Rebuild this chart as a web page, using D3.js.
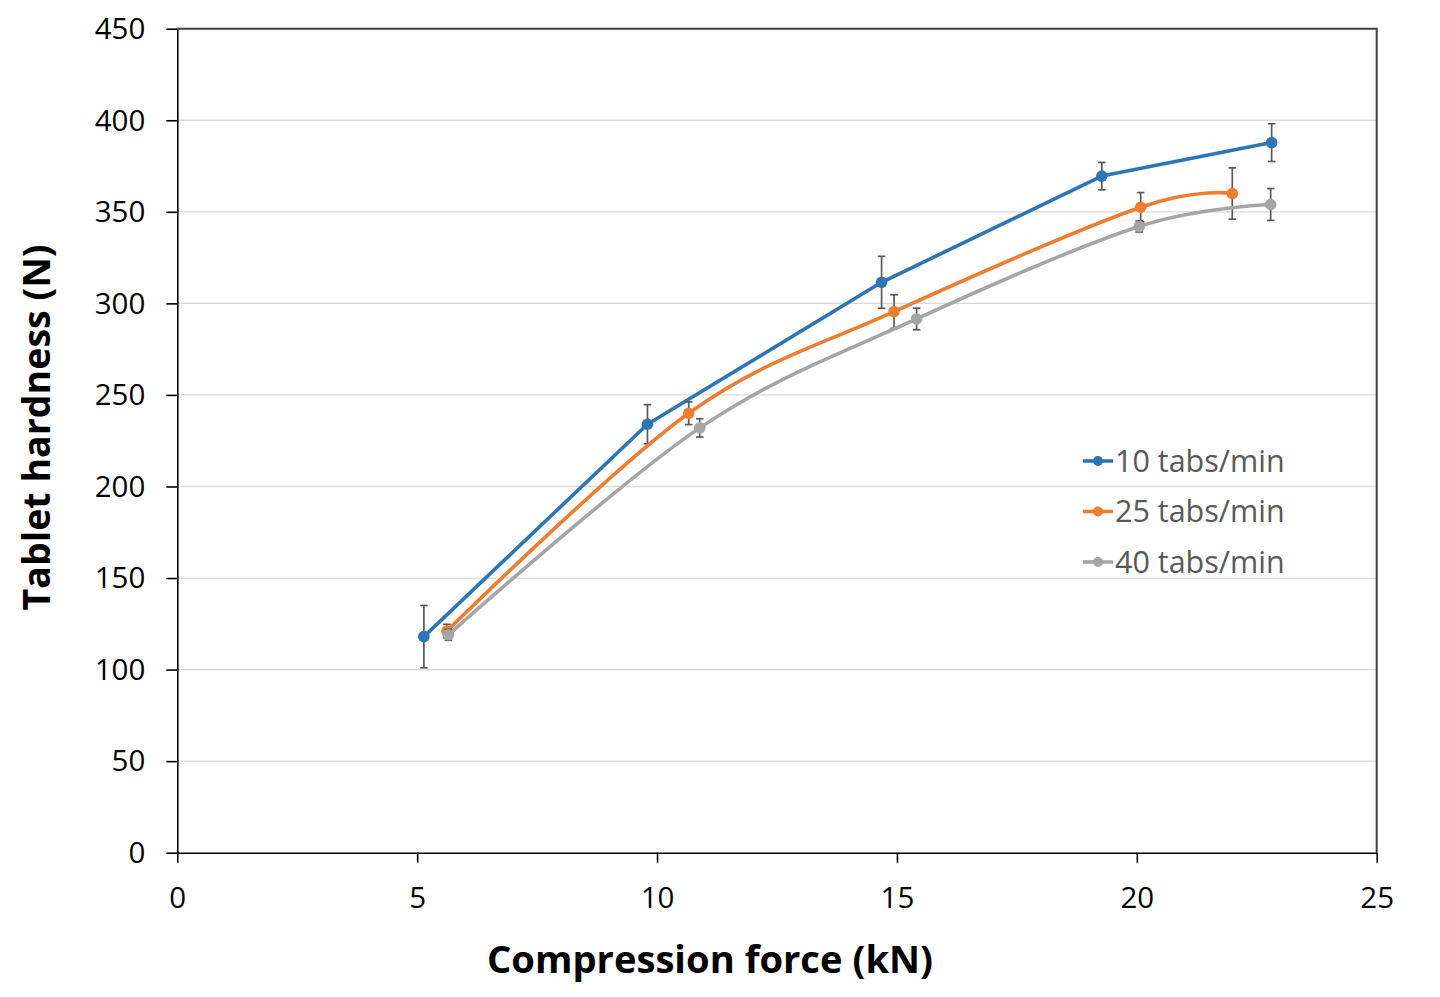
<!DOCTYPE html>
<html>
<head>
<meta charset="utf-8">
<script src="https://cdn.jsdelivr.net/npm/d3@7"></script>
<style>
  html, body { margin: 0; padding: 0; background: #fff; }
  svg { display: block; }
</style>
</head>
<body>
<svg id="chart" width="1440" height="997"></svg>
<script>
// ---- Data ----
const seriesNames = ["10 tabs/min", "25 tabs/min", "40 tabs/min"];
const seriesColors = ["#2E75B6", "#ED7D31", "#A5A5A5"];
const x10 = [5.14, 9.80, 14.68, 19.27, 22.81];
const y10 = [118, 234, 311.5, 369.5, 387.8];
const e10 = [17, 10.7, 14.2, 7.5, 10.3];
const x25 = [5.62, 10.66, 14.94, 20.08, 21.99];
const y25 = [121, 240, 295.5, 352.5, 360];
const e25 = [3.7, 6.2, 9.2, 8, 14];
const x40 = [5.65, 10.89, 15.41, 20.05, 22.79];
const y40 = [119, 232, 291.5, 342, 354];
const e40 = [3, 5, 5.9, 3, 8.7];
const xTicks = [0, 5, 10, 15, 20, 25];
const yTicks = [0, 50, 100, 150, 200, 250, 300, 350, 400, 450];
const xTitle = "Compression force (kN)";
const yTitle = "Tablet hardness (N)";

const series = [
  { name: seriesNames[0], color: seriesColors[0], xs: x10, ys: y10, es: e10, smooth: false },
  { name: seriesNames[1], color: seriesColors[1], xs: x25, ys: y25, es: e25, smooth: true },
  { name: seriesNames[2], color: seriesColors[2], xs: x40, ys: y40, es: e40, smooth: true }
];

// ---- Layout ----
const L = 177.3, R = 1376.7, T = 28.7, B = 852.7;
const svg = d3.select("#chart");
const x = d3.scaleLinear().domain([0, 25]).range([L, R]);
const y = d3.scaleLinear().domain([0, 450]).range([B, T]);
const font = "'Open Sans', 'Noto Sans', sans-serif";

// gridlines
svg.append("g").selectAll("line").data(yTicks.filter(d => d > 0 && d < 450)).join("line")
  .attr("x1", L).attr("x2", R).attr("y1", d => y(d)).attr("y2", d => y(d))
  .attr("stroke", "#d9d9d9").attr("stroke-width", 1.3);

// plot border (top & right)
svg.append("path")
  .attr("d", `M${L},${T}H${R}V${B}`)
  .attr("fill", "none").attr("stroke", "#404040").attr("stroke-width", 2);

// axes
const xAxis = svg.append("g").attr("transform", `translate(0,${B})`)
  .call(d3.axisBottom(x).tickValues(xTicks).tickSize(10).tickPadding(17).tickSizeOuter(0));
const yAxis = svg.append("g").attr("transform", `translate(${L},0)`)
  .call(d3.axisLeft(y).tickValues(yTicks).tickSize(11).tickPadding(21).tickSizeOuter(0));
[xAxis, yAxis].forEach(g => {
  g.select(".domain").attr("stroke", "#000").attr("stroke-width", 1.6);
  g.selectAll(".tick line").attr("stroke", "#000").attr("stroke-width", 1.6);
  g.selectAll(".tick text").attr("fill", "#000").style("font-family", font).style("font-size", "29.5px");
});
xAxis.selectAll(".tick text").attr("dy", "0.95em");
yAxis.selectAll(".tick text").attr("dy", "0.33em");

// series
series.forEach(s => {
  const pts = s.xs.map((v, i) => ({ x: v, y: s.ys[i], e: s.es[i] }));
  const g = svg.append("g");
  const line = d3.line().x(d => x(d.x)).y(d => y(d.y))
    .curve(s.smooth ? d3.curveCardinal.tension(0) : d3.curveLinear);
  g.append("path").datum(pts).attr("d", line)
    .attr("fill", "none").attr("stroke", s.color).attr("stroke-width", 3.6)
    .attr("stroke-linejoin", "round");
  const eb = g.append("g").attr("stroke", "#595959").attr("stroke-width", 1.7);
  eb.selectAll(".v").data(pts).join("line").attr("class", "v")
    .attr("x1", d => x(d.x)).attr("x2", d => x(d.x))
    .attr("y1", d => y(d.y + d.e)).attr("y2", d => y(d.y - d.e));
  eb.selectAll(".t").data(pts).join("line").attr("class", "t")
    .attr("x1", d => x(d.x) - 3.8).attr("x2", d => x(d.x) + 3.8)
    .attr("y1", d => y(d.y + d.e)).attr("y2", d => y(d.y + d.e));
  eb.selectAll(".b").data(pts).join("line").attr("class", "b")
    .attr("x1", d => x(d.x) - 3.8).attr("x2", d => x(d.x) + 3.8)
    .attr("y1", d => y(d.y - d.e)).attr("y2", d => y(d.y - d.e));
  g.selectAll("circle").data(pts).join("circle")
    .attr("cx", d => x(d.x)).attr("cy", d => y(d.y)).attr("r", 5.8)
    .attr("fill", s.color);
});

// legend
const leg = svg.append("g");
series.forEach((s, i) => {
  const yy = 461 + i * 50.5;
  leg.append("line").attr("x1", 1083).attr("x2", 1113).attr("y1", yy).attr("y2", yy)
    .attr("stroke", s.color).attr("stroke-width", 3.6);
  leg.append("circle").attr("cx", 1098).attr("cy", yy).attr("r", 5).attr("fill", s.color);
  leg.append("text").attr("x", 1115).attr("y", yy).attr("dy", "0.36em")
    .attr("fill", "#595959").style("font-family", font).style("font-size", "30.5px")
    .text(s.name);
});

// axis titles
svg.append("text").attr("x", (487 + 933) / 2).attr("y", 973)
  .attr("text-anchor", "middle").attr("fill", "#000")
  .style("font-family", font).style("font-weight", "bold").style("font-size", "37px")
  .attr("textLength", 446).attr("lengthAdjust", "spacingAndGlyphs")
  .text(xTitle);
svg.append("text").attr("transform", `translate(50,${(243 + 612) / 2}) rotate(-90)`)
  .attr("text-anchor", "middle").attr("fill", "#000")
  .style("font-family", font).style("font-weight", "bold").style("font-size", "37px")
  .attr("textLength", 366).attr("lengthAdjust", "spacingAndGlyphs")
  .text(yTitle);
</script>
</body>
</html>
